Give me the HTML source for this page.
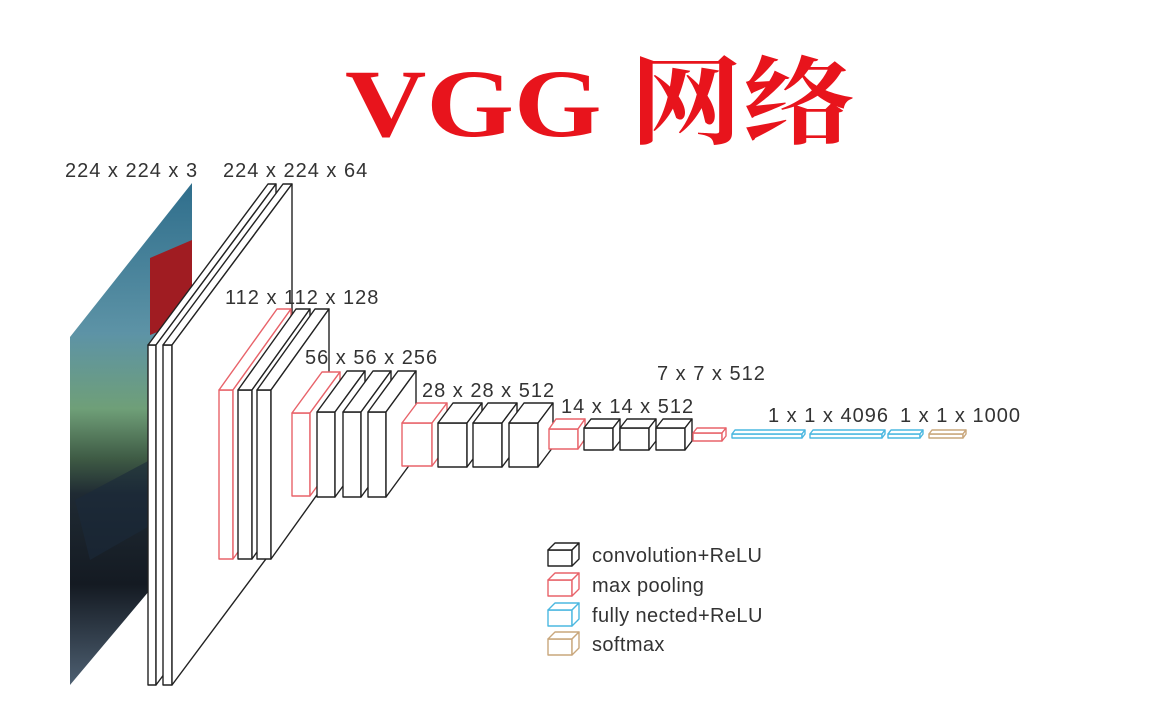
<!DOCTYPE html>
<html><head><meta charset="utf-8"><style>
html,body{margin:0;padding:0;background:#fff;}
svg{display:block}
.lab{font-family:"Liberation Sans",sans-serif;font-size:20px;fill:#333;letter-spacing:1px}
.leg{font-family:"Liberation Sans",sans-serif;font-size:20px;fill:#333;letter-spacing:0.4px}
</style></head><body>
<svg width="1152" height="720" viewBox="0 0 1152 720" xmlns="http://www.w3.org/2000/svg">
<defs>
<linearGradient id="img" x1="0" y1="0" x2="0" y2="1">
<stop offset="0" stop-color="#2f6e8c"/>
<stop offset="0.3" stop-color="#5d93a6"/>
<stop offset="0.45" stop-color="#6f9f78"/>
<stop offset="0.55" stop-color="#3e5a44"/>
<stop offset="0.62" stop-color="#1f2a33"/>
<stop offset="0.8" stop-color="#141a22"/>
<stop offset="1" stop-color="#4e6072"/>
</linearGradient>
</defs>
<text x="345" y="136" textLength="510" lengthAdjust="spacingAndGlyphs" font-family="'Liberation Serif','Noto Serif CJK SC',serif" font-weight="bold" font-size="96" fill="#e8141c">VGG 网络</text>

<polygon points="70,337 192,183 192,540 70,685" fill="url(#img)"/>
<polygon points="150,258 192,240 192,318 150,335" fill="#a01c22"/>
<polygon points="75,500 150,460 160,520 90,560" fill="#1a2a3a" opacity="0.6"/>

<g id="boxes" fill="#fff" stroke-width="1.4"></g>

<text class="lab" x="65" y="177">224 x 224 x 3</text>
<text class="lab" x="223" y="177">224 x 224 x 64</text>
<text class="lab" x="225" y="304">112 x 112 x 128</text>
<text class="lab" x="305" y="364">56 x 56 x 256</text>
<text class="lab" x="422" y="397">28 x 28 x 512</text>
<text class="lab" x="561" y="413">14 x 14 x 512</text>
<text class="lab" x="657" y="380">7 x 7 x 512</text>
<text class="lab" x="768" y="422">1 x 1 x 4096</text>
<text class="lab" x="900" y="422">1 x 1 x 1000</text>

<text class="leg" x="592" y="562">convolution+ReLU</text>
<text class="leg" x="592" y="592">max pooling</text>
<text class="leg" x="592" y="622">fully nected+ReLU</text>
<text class="leg" x="592" y="651">softmax</text>
</svg>
<script>
(function(){
var g=document.getElementById('boxes');
var ns='http://www.w3.org/2000/svg';
function box(x,y,w,h,dx,dy,c){
 var p=[
  [[x,y],[x+w,y],[x+w,y+h],[x,y+h]],
  [[x,y],[x+dx,y-dy],[x+w+dx,y-dy],[x+w,y]],
  [[x+w,y],[x+w+dx,y-dy],[x+w+dx,y+h-dy],[x+w,y+h]]
 ];
 p.forEach(function(q){
  var e=document.createElementNS(ns,'polygon');
  e.setAttribute('points',q.map(function(a){return a.join(',')}).join(' '));
  e.setAttribute('stroke',c);e.setAttribute('fill','#fff');e.setAttribute('stroke-linejoin','round');
  g.appendChild(e);
 });
}
var K='#222',R='#e8636a',B='#4cb8e0',T='#c9a77c';
box(148,345,8,340,120,161,K);
box(163,345,9,340,120,161,K);
box(219,390,14,169,58,81,R);
box(238,390,14,169,58,81,K);
box(257,390,14,169,58,81,K);
box(292,413,18,83,30,41,R);
box(317,412,18,85,30,41,K);
box(343,412,18,85,30,41,K);
box(368,412,18,85,30,41,K);
box(402,423,30,43,15,20,R);
box(438,423,29,44,15,20,K);
box(473,423,29,44,15,20,K);
box(509,423,29,44,15,20,K);
box(549,429,29,20,7,10,R);
box(584,428,29,22,7,9,K);
box(620,428,29,22,7,9,K);
box(656,428,29,22,7,9,K);
box(693,433,29,8,4,5,R);
box(732,434,70,4,3,4,B);
box(810,434,72,4,3,4,B);
box(888,434,32,4,3,4,B);
box(929,434,34,4,3,4,T);
box(548,550,24,16,7,7,K);
box(548,580,24,16,7,7,R);
box(548,610,24,16,7,7,B);
box(548,639,24,16,7,7,T);
})();
</script>
</body></html>
